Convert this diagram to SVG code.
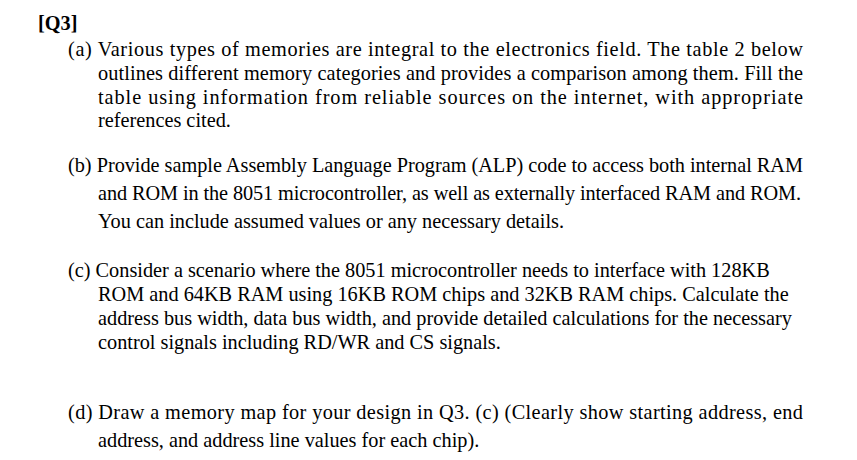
<svg xmlns="http://www.w3.org/2000/svg" width="857" height="460" viewBox="0 0 857 460">
<style>
text{font-family:"Liberation Serif","Times New Roman",serif;font-size:20.3px;fill:#000}
.b{font-weight:bold}
</style>
<rect width="857" height="460" fill="#fff"/>
<g id="q3">
<text class="b" x="38" y="30">[Q3]</text>
</g>
<g id="part-a">
<text x="68" y="56" textLength="735" lengthAdjust="spacing">(a) Various types of memories are integral to the electronics field. The table 2 below</text>
<text x="98" y="80" textLength="705" lengthAdjust="spacing">outlines different memory categories and provides a comparison among them. Fill the</text>
<text x="98" y="104" textLength="705" lengthAdjust="spacing">table using information from reliable sources on the internet, with appropriate</text>
<text x="98" y="127">references cited.</text>
</g>
<g id="part-b">
<text x="68" y="172" textLength="735" lengthAdjust="spacing">(b) Provide sample Assembly Language Program (ALP) code to access both internal RAM</text>
<text x="98" y="200" textLength="703" lengthAdjust="spacing">and ROM in the 8051 microcontroller, as well as externally interfaced RAM and ROM.</text>
<text x="98" y="228">You can include assumed values or any necessary details.</text>
</g>
<g id="part-c">
<text x="68" y="277">(c) Consider a scenario where the 8051 microcontroller needs to interface with 128KB</text>
<text x="98" y="301">ROM and 64KB RAM using 16KB ROM chips and 32KB RAM chips. Calculate the</text>
<text x="98" y="325">address bus width, data bus width, and provide detailed calculations for the necessary</text>
<text x="98" y="349">control signals including RD/WR and CS signals.</text>
</g>
<g id="part-d">
<text x="68" y="419" textLength="735" lengthAdjust="spacing">(d) Draw a memory map for your design in Q3. (c) (Clearly show starting address, end</text>
<text x="98" y="447">address, and address line values for each chip).</text>
</g>
</svg>
